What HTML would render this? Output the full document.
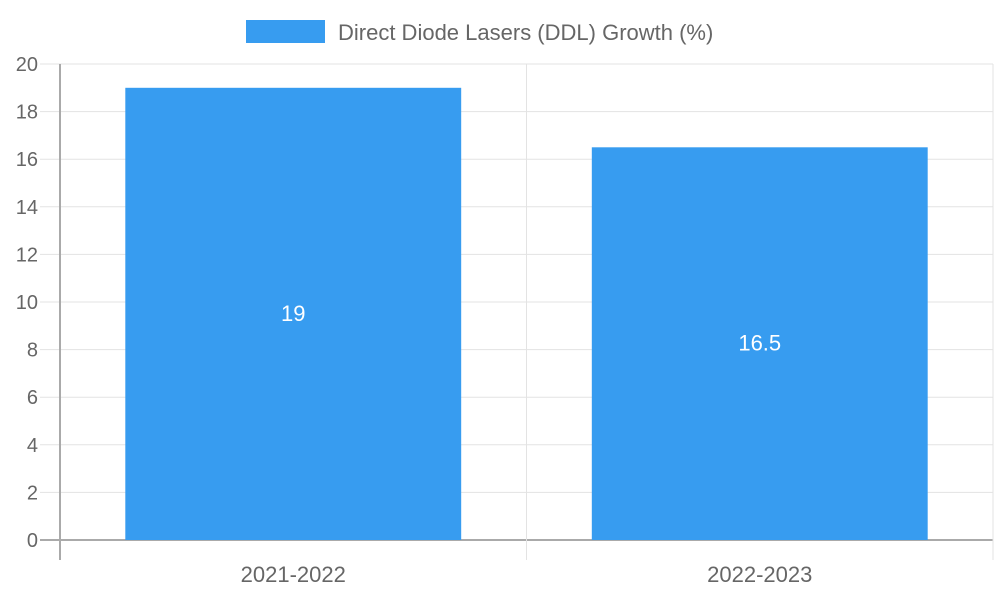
<!DOCTYPE html>
<html><head><meta charset="utf-8"><style>
html,body{margin:0;padding:0;background:#fff;}
svg{display:block;font-family:"Liberation Sans",sans-serif;}
</style></head><body>
<svg id="chart" width="1000" height="600" viewBox="0 0 1000 600">
<g id="legend">
<rect x="246" y="20" width="79" height="23" fill="#379cf0"/>
<text x="338" y="40" font-size="22" fill="#666">Direct Diode Lasers (DDL) Growth (%)</text>
</g>
<g id="grid"></g><g id="bars"></g><g id="axes"></g>
</svg>
<script>
const categories = ["2021-2022", "2022-2023"];
const values = [19, 16.5];
const yTicks = [0, 2, 4, 6, 8, 10, 12, 14, 16, 18, 20];
const NS = "http://www.w3.org/2000/svg";
const L = 60, R = 993, T = 64, B = 540, yMax = 20;
const y = v => B - (v / yMax) * (B - T);
const bw = (R - L) / categories.length;
const x = i => L + bw * i;
function mk(tag, attrs, parent) { const e = document.createElementNS(NS, tag); for (const k in attrs) e.setAttribute(k, attrs[k]); parent.appendChild(e); return e; }
const grid = document.getElementById('grid'), bars = document.getElementById('bars'), axes = document.getElementById('axes');
yTicks.forEach(t => {
  const ln = mk('line', {x1: 40, x2: R, y1: y(t), y2: y(t), stroke: t === 0 ? '#aaa' : '#e3e3e3', 'stroke-width': t === 0 ? 2 : 1}, grid);
  
  
  const tx = mk('text', {x: 38, y: y(t) + 7, 'text-anchor': 'end', 'font-size': 20, fill: '#666'}, axes);
  tx.textContent = t;
  
  
});
for (let i = 0; i <= categories.length; i++) {
  const ln = mk('line', {x1: x(i), x2: x(i), y1: T, y2: 560, stroke: i === 0 ? '#aaa' : '#e3e3e3', 'stroke-width': i === 0 ? 2 : 1}, grid);
  
  
}
categories.forEach((c, i) => {
  const w = bw * 0.72, bx = x(i) + (bw - w) / 2;
  const r = mk('rect', {x: bx, y: y(values[i]), width: w, height: B - y(values[i]), fill: '#379cf0'}, bars);
  
  
  const vt = mk('text', {x: bx + w / 2, y: (y(values[i]) + B) / 2 + 7, 'text-anchor': 'middle', 'font-size': 22, fill: '#fff'}, bars);
  vt.textContent = values[i];
  
  
  const ct = mk('text', {x: x(i) + bw / 2, y: 582, 'text-anchor': 'middle', 'font-size': 22, fill: '#666'}, axes);
  ct.textContent = c;
  
  
});
</script>
</body></html>
